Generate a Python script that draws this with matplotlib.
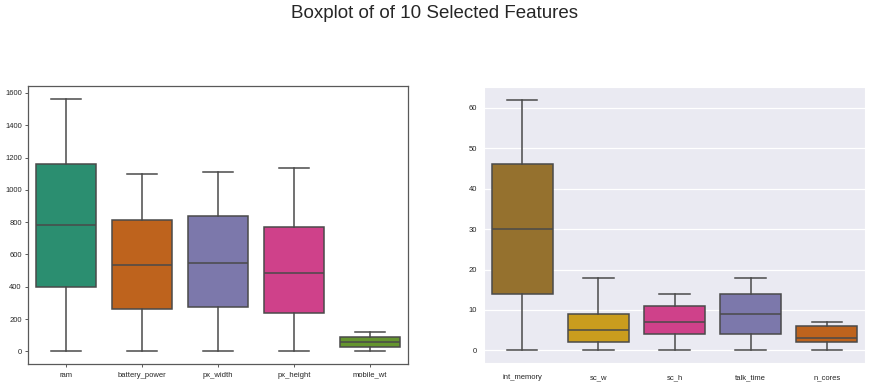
import numpy as np
import matplotlib
matplotlib.use("Agg")
import matplotlib.pyplot as plt
import seaborn as sns

# five-number summaries (whislo, q1, med, q3, whishi)
left_names = ["ram", "battery_power", "px_width", "px_height", "mobile_wt"]
left_lo = [0, 0, 0, 0, 3]
left_q1 = [400, 262, 275, 240, 30]
left_med = [783, 537, 545, 485, 60]
left_q3 = [1162, 812, 838, 770, 90]
left_hi = [1565, 1097, 1110, 1138, 118]

right_names = ["int_memory", "sc_w", "sc_h", "talk_time", "n_cores"]
right_lo = [0, 0, 0, 0, 0]
right_q1 = [14, 2, 4, 4, 2]
right_med = [30, 5, 7, 9, 3]
right_q3 = [46, 9, 11, 14, 6]
right_hi = [62, 18, 14, 18, 7]

dark2 = sns.color_palette("Dark2")
left_colors = [dark2[i] for i in [0, 1, 2, 3, 4]]
right_colors = [dark2[i] for i in [6, 5, 3, 2, 1]]

LINE = "#4a4a4a"
FONT = ["Liberation Sans", "DejaVu Sans"]


def draw_box(ax, names, lo, q1, med, q3, hi, colors):
    stats = []
    for n, a, b, c, d, e in zip(names, lo, q1, med, q3, hi):
        stats.append({"label": n, "whislo": a, "q1": b, "med": c,
                      "q3": d, "whishi": e, "fliers": []})
    pos = np.arange(len(names))
    bp = ax.bxp(stats, positions=pos, widths=0.8, patch_artist=True,
                showfliers=False, capwidths=0.4,
                boxprops=dict(edgecolor=LINE, linewidth=1.1),
                whiskerprops=dict(color=LINE, linewidth=1.1),
                capprops=dict(color=LINE, linewidth=1.1),
                medianprops=dict(color=LINE, linewidth=1.1))
    for patch, col in zip(bp["boxes"], colors):
        patch.set_facecolor(sns.desaturate(col, 0.75))
    ax.set_xlim(-0.5, len(names) - 0.5)
    ax.set_xticks(pos)
    ax.set_xticklabels(names)
    ax.margins(y=0.05)
    ax.autoscale(axis="y")


fig = plt.figure(figsize=(8.69, 3.84), dpi=100)

with sns.axes_style("ticks"):
    plt.rcParams["font.family"] = FONT
    ax1 = fig.add_axes([0.0322, 0.0521, 0.4373, 0.7239])
draw_box(ax1, left_names, left_lo, left_q1, left_med, left_q3, left_hi, left_colors)
for s in ax1.spines.values():
    s.set_color("0.35")
    s.set_linewidth(0.9)
ax1.tick_params(labelsize=5.5, length=2.5, width=0.7, color="0.35", labelcolor="#262626", pad=2)
ax1.tick_params(axis="x", pad=3)

with sns.axes_style("darkgrid"):
    plt.rcParams["font.family"] = FONT
    ax2 = fig.add_axes([0.557, 0.0547, 0.4384, 0.7187])
draw_box(ax2, right_names, right_lo, right_q1, right_med, right_q3, right_hi, right_colors)
ax2.xaxis.grid(False)
ax2.yaxis.grid(True, color="white", linewidth=0.9)
ax2.set_axisbelow(True)
ax2.set_yticks([0, 10, 20, 30, 40, 50, 60])
ax2.tick_params(labelsize=5.5, length=0, labelcolor="#262626", pad=5)
ax2.tick_params(axis="x", pad=8)

fig.text(0.5, 0.964, "Boxplot of of 10 Selected Features", ha="center", va="center",
         fontsize=13.5, color="#262626", family=FONT)

fig.savefig("out.png", dpi=100)
